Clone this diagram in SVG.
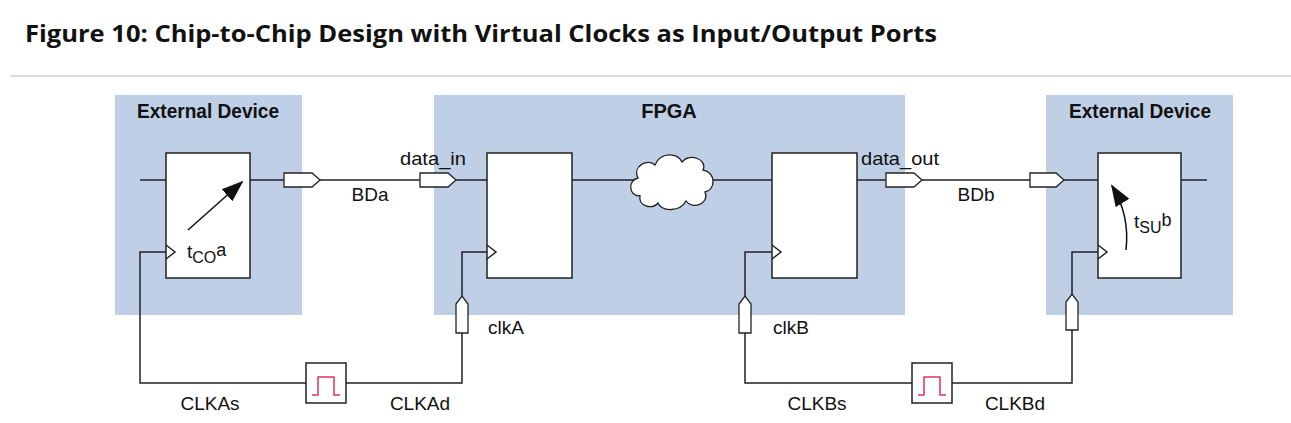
<svg xmlns="http://www.w3.org/2000/svg" width="1291" height="423" viewBox="0 0 1291 423">
<style>
.panel{fill:#bfcfe6}
.ff{fill:#fff;stroke:#222;stroke-width:1.5}
.w{fill:none;stroke:#222;stroke-width:1.5}
.port{fill:#fff;stroke:#222;stroke-width:1.3}
.t{font-family:"Liberation Sans",sans-serif;font-size:19px;fill:#111}
.h{font-family:"Liberation Sans",sans-serif;font-size:20px;font-weight:bold;fill:#111}
</style>
<defs>
<marker id="ah" markerWidth="22" markerHeight="22" refX="20" refY="8" orient="auto" markerUnits="userSpaceOnUse" viewBox="0 0 22 16"><path d="M0,0 L22,8 L0,16 z" fill="#111"/></marker>
</defs>
<text x="25" y="42" font-family="'Open Sans','Liberation Sans',sans-serif" font-size="23" font-weight="bold" fill="#111" textLength="912" lengthAdjust="spacingAndGlyphs">Figure 10: Chip-to-Chip Design with Virtual Clocks as Input/Output Ports</text>
<line x1="10" y1="76" x2="1291" y2="76" stroke="#bbb" stroke-width="1"/>
<g id="extA"><rect class="panel" x="115" y="95" width="187" height="220"/><text class="h" x="208" y="118" text-anchor="middle" textLength="142" lengthAdjust="spacingAndGlyphs">External Device</text></g>
<g id="fpga"><rect class="panel" x="434" y="95" width="471" height="220"/><text class="h" x="669" y="118" text-anchor="middle">FPGA</text></g>
<g id="extB"><rect class="panel" x="1046" y="95" width="187" height="220"/><text class="h" x="1140" y="118" text-anchor="middle" textLength="142" lengthAdjust="spacingAndGlyphs">External Device</text></g>
<g id="connectors">
<path class="w" d="M140,180 H1207"/>
<path class="w" d="M166,252 H140 V383 H462 V252 H487"/>
<path class="w" d="M772,252 H745 V383 H1072 V252 H1098"/>
</g>
<g id="ffA"><rect class="ff" x="166" y="153" width="84" height="125"/><path class="w" d="M166,245 L175,252 L166,259"/>
<line x1="188" y1="230" x2="242" y2="182" stroke="#111" stroke-width="1.5" marker-end="url(#ah)"/>
<text class="t" x="187" y="258" font-size="21">t<tspan font-size="16" dy="5">CO</tspan><tspan font-size="18" dy="-7">a</tspan></text></g>
<g id="ff1"><rect class="ff" x="487" y="153" width="85" height="125"/><path class="w" d="M487,245 L496,252 L487,259"/></g>
<g id="cloud"><path d="M640,196 C628,196 628,180 638,178 C632,166 648,158 655,165 C660,152 678,152 682,162 C690,152 708,160 703,170 C716,172 716,190 705,192 C710,204 692,210 686,201 C680,212 662,212 658,203 C652,210 638,206 640,196 Z" fill="#fff" stroke="#222" stroke-width="1.3"/></g>
<g id="ff2"><rect class="ff" x="772" y="153" width="85" height="125"/><path class="w" d="M772,245 L781,252 L772,259"/></g>
<g id="ffB"><rect class="ff" x="1098" y="153" width="83" height="125"/><path class="w" d="M1098,245 L1107,252 L1098,259"/>
<path d="M1126,250 Q1130,215 1112,186" fill="none" stroke="#111" stroke-width="1.5" marker-end="url(#ah)"/>
<text class="t" x="1134" y="228" font-size="21">t<tspan font-size="16" dy="5">SU</tspan><tspan font-size="18" dy="-7">b</tspan></text></g>
<g id="ports">
<path class="port" d="M284,173 H312 L320,180 L312,187 H284 Z"/>
<path class="port" d="M420,173 H448 L456,180 L448,187 H420 Z"/>
<path class="port" d="M886,173 H914 L922,180 L914,187 H886 Z"/>
<path class="port" d="M1030,173 H1056 L1064,180 L1056,187 H1030 Z"/>
<path class="port" d="M456,333 V304 L462,296 L468,304 V333 Z"/>
<path class="port" d="M739,333 V304 L745,296 L751,304 V333 Z"/>
<path class="port" d="M1066,330 V302 L1072,294 L1078,302 V330 Z"/>
</g>
<g id="pulseA"><rect class="ff" x="306" y="363" width="40" height="40"/><path d="M312,395 H318 V377 H334 V395 H340" fill="none" stroke="#e0306a" stroke-width="1.5"/></g>
<g id="pulseB"><rect class="ff" x="912" y="363" width="40" height="40"/><path d="M918,395 H924 V377 H940 V395 H946" fill="none" stroke="#e0306a" stroke-width="1.5"/></g>
<g id="labels">
<text class="t" x="400" y="165" textLength="66" lengthAdjust="spacingAndGlyphs">data_in</text>
<text class="t" x="370" y="201" text-anchor="middle">BDa</text>
<text class="t" x="861" y="165" textLength="78" lengthAdjust="spacingAndGlyphs">data_out</text>
<text class="t" x="976" y="201" text-anchor="middle">BDb</text>
<text class="t" x="488" y="334">clkA</text>
<text class="t" x="773" y="334">clkB</text>
<text class="t" x="210" y="410" text-anchor="middle">CLKAs</text>
<text class="t" x="420" y="410" text-anchor="middle">CLKAd</text>
<text class="t" x="817" y="410" text-anchor="middle">CLKBs</text>
<text class="t" x="1015" y="410" text-anchor="middle">CLKBd</text>
</g>
</svg>
